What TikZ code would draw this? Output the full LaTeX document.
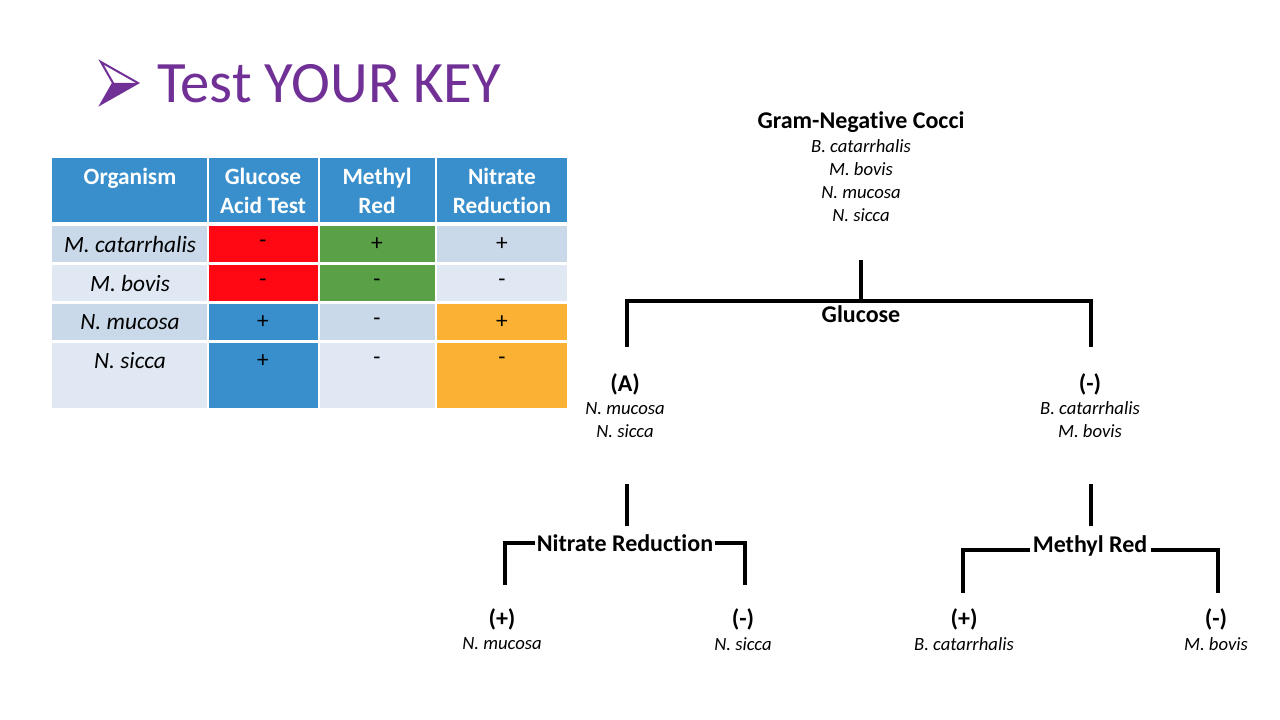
\documentclass[tikz,border=0pt]{standalone}
\usepackage{fontspec}
\setmainfont[Ligatures=NoCommon]{Carlito}
\definecolor{titlepurple}{RGB}{112,48,150}
\definecolor{hdblue}{RGB}{57,143,203}
\definecolor{lightA}{RGB}{201,217,233}
\definecolor{lightB}{RGB}{224,233,243}
\definecolor{cellred}{RGB}{255,8,20}
\definecolor{cellgreen}{RGB}{90,160,70}
\definecolor{cellorange}{RGB}{251,178,52}
\tikzset{
  th/.style={anchor=north, inner sep=0pt, align=center, text=white,
    font=\fontsize{17.5}{21.75}\selectfont\bfseries},
  tname/.style={font=\fontsize{17.5}{19}\selectfont\itshape},
  tsign/.style={font=\fontsize{17.5}{19}\selectfont},
  hd/.style={inner sep=1pt, font=\fontsize{18}{21}\selectfont\bfseries},
  sp/.style={inner sep=1pt, align=center, font=\fontsize{14}{17.25}\selectfont\itshape},
  bar/.style={line width=3pt, line join=miter},
}
\begin{document}
\begin{tikzpicture}[x=0.75pt, y=-0.75pt]
\useasboundingbox (0,0) rectangle (1280,720);
% title
\fill[titlepurple] (101,104) -- (138,83) -- (113,83) -- cycle;
\draw[titlepurple, line width=1.5pt] (101,62) -- (138,83) -- (101,104) -- (113,83) -- cycle;
\node[anchor=base west, inner sep=0pt, text=titlepurple, font=\fontsize{44}{50}\selectfont] (title) at (157,103) {Test YOUR KEY};

% table cells
\fill[hdblue] (52,158) rectangle (207,222);
\fill[hdblue] (209,158) rectangle (318,222);
\fill[hdblue] (320,158) rectangle (435,222);
\fill[hdblue] (437,158) rectangle (567,222);
\fill[lightA] (52,226) rectangle (207,262);
\fill[cellred] (209,226) rectangle (318,262);
\fill[cellgreen] (320,226) rectangle (435,262);
\fill[lightA] (437,226) rectangle (567,262);
\fill[lightB] (52,265) rectangle (207,301);
\fill[cellred] (209,265) rectangle (318,301);
\fill[cellgreen] (320,265) rectangle (435,301);
\fill[lightB] (437,265) rectangle (567,301);
\fill[lightA] (52,304) rectangle (207,340);
\fill[hdblue] (209,304) rectangle (318,340);
\fill[lightA] (320,304) rectangle (435,340);
\fill[cellorange] (437,304) rectangle (567,340);
\fill[lightB] (52,343) rectangle (207,408);
\fill[hdblue] (209,343) rectangle (318,408);
\fill[lightB] (320,343) rectangle (435,408);
\fill[cellorange] (437,343) rectangle (567,408);

% table texts
\node[th] (h1) at (130,168) {Organism};
\node[th] (h2) at (263,168) {Glucose\\Acid Test};
\node[th] (h3) at (377,168) {Methyl\\Red};
\node[th] (h4) at (502,168) {Nitrate\\Reduction};
\node[tname] (r1) at (130,244) {M. catarrhalis};
\node[tsign] (r1a) at (263,244) {-};
\node[tsign] (r1b) at (377,244) {+};
\node[tsign] (r1c) at (502,244) {+};
\node[tname] (r2) at (130,283) {M. bovis};
\node[tsign] (r2a) at (263,283) {-};
\node[tsign] (r2b) at (377,283) {-};
\node[tsign] (r2c) at (502,283) {-};
\node[tname] (r3) at (130,322) {N. mucosa};
\node[tsign] (r3a) at (263,322) {+};
\node[tsign] (r3b) at (377,322) {-};
\node[tsign] (r3c) at (502,322) {+};
\node[tname] (r4) at (130,361) {N. sicca};
\node[tsign] (r4a) at (263,361) {+};
\node[tsign] (r4b) at (377,361) {-};
\node[tsign] (r4c) at (502,361) {-};

% key: first split
\node[hd] (root) at (861,122) {Gram-Negative Cocci};
\node[sp] (rootlist) at (861,181) {B. catarrhalis\\M. bovis\\N. mucosa\\N. sicca};
\node[hd] (glu) at (861,314) {Glucose};
\coordinate (s0) at (861,260);
\coordinate (j0) at (861,301);
\coordinate (gl) at (627,347);
\coordinate (gr) at (1091,301);
\coordinate (gr2) at (1091,347);
\draw[bar] (s0) -- (j0);
\draw[bar] (gl) |- (gr) -- (gr2);

\node[hd] (A) at (625,384) {(A)};
\node[sp] (Alist) at (625,420) {N. mucosa\\N. sicca};
\node[hd] (neg) at (1090,384) {(-)};
\node[sp] (neglist) at (1090,420) {B. catarrhalis\\M. bovis};

% key: nitrate reduction
\node[hd] (nr) at (625,543) {Nitrate Reduction};
\coordinate (s1) at (627,484);
\coordinate (s1b) at (627,526);
\coordinate (nrl) at (505,585);
\coordinate (nrr) at (745,585);
\draw[bar] (s1) -- (s1b);
\draw[bar] (nrl) |- (nr.west);
\draw[bar] (nrr) |- (nr.east);
\node[hd] (p1) at (502,619) {(+)};
\node[sp] (p1s) at (502,644) {N. mucosa};
\node[hd] (n1) at (743,619) {(-)};
\node[sp] (n1s) at (743,644) {N. sicca};

% key: methyl red
\node[hd] (mr) at (1090,546) {Methyl Red};
\coordinate (s2) at (1091,484);
\coordinate (s2b) at (1091,526);
\coordinate (mrl) at (963,593);
\coordinate (mrl2) at (1030,550);
\coordinate (mrr) at (1218,593);
\coordinate (mrr2) at (1151,550);
\draw[bar] (s2) -- (s2b);
\draw[bar] (mrl) |- (mrl2);
\draw[bar] (mrr) |- (mrr2);
\node[hd] (p2) at (964,619) {(+)};
\node[sp] (p2s) at (964,644) {B. catarrhalis};
\node[hd] (n2) at (1216,619) {(-)};
\node[sp] (n2s) at (1216,644) {M. bovis};
\end{tikzpicture}
\end{document}
